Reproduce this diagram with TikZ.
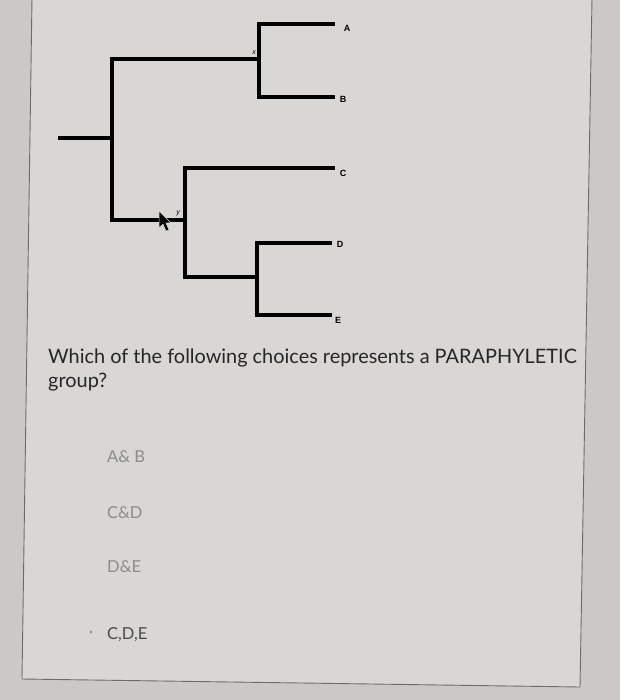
\documentclass[tikz,border=0pt]{standalone}
\usepackage{fontspec}
\setmainfont{Lato}
\newfontfamily\labfont{Liberation Sans}
\definecolor{outerbg}{HTML}{CBC9C7}
\definecolor{panelbg}{HTML}{D9D7D5}
\definecolor{framec}{HTML}{6E6A6C}
\definecolor{optgray}{HTML}{8C8C8C}
\definecolor{optdark}{HTML}{4A4A4A}
\definecolor{qtext}{HTML}{262626}
\begin{document}
\begin{tikzpicture}[x=1pt,y=-1pt,
  branch/.style={line width=3.4pt,black,line join=miter,line cap=rect},
  leaflab/.style={font=\labfont\bfseries\fontsize{9}{9}\selectfont,anchor=center,inner sep=0pt},
  nodelab/.style={font=\labfont\itshape\fontsize{7}{7}\selectfont,anchor=center,inner sep=0pt},
  question/.style={font=\fontsize{19.9}{23}\selectfont,text=qtext,anchor=base west,inner sep=0pt},
  option/.style={font=\fontsize{16.5}{19}\selectfont,text=optgray,anchor=base west,inner sep=0pt}]
\useasboundingbox (0,0) rectangle (620,700);
\fill[outerbg] (0,0) rectangle (620,700);
\fill[panelbg,draw=framec,line width=0.9pt] (32,-2) -- (22,679) -- (580,687) -- (592,-2);
% tree points
\coordinate (root) at (60,138);
\coordinate (n1) at (112,138);
\coordinate (nx) at (259,59);
\coordinate (ny) at (185,220);
\coordinate (nde) at (257,277);
\coordinate (lA) at (333,24);
\coordinate (lB) at (333,97);
\coordinate (lC) at (333,168);
\coordinate (lD) at (330,243);
\coordinate (lE) at (330,315);
\draw[branch] (root) -- (n1);
\draw[branch] (n1) |- (nx);
\draw[branch] (n1) |- (ny);
\draw[branch] (nx) |- (lA);
\draw[branch] (nx) |- (lB);
\draw[branch] (ny) |- (lC);
\draw[branch] (ny) |- (nde);
\draw[branch] (nde) |- (lD);
\draw[branch] (nde) |- (lE);
% leaf labels
\node[leaflab] (tA) at (347,28) {A};
\node[leaflab] (tB) at (343,99) {B};
\node[leaflab] (tC) at (343,173) {C};
\node[leaflab] (tD) at (340,244) {D};
\node[leaflab] (tE) at (338,320) {E};
\node[nodelab] (tx) at (254,53) {x};
\node[nodelab] (ty) at (178,213) {y};
% mouse pointer
\filldraw[fill=black,draw=white!85!black,line width=0.5pt]
  (159,211) -- (159,228) -- (163,224) -- (166,231) -- (169,230) -- (166,223) -- (171,223) -- cycle;
% question
\node[question] (q1) at (48,363) {Which of the following choices represents a PARAPHYLETIC};
\node[question] (q2) at (48,387) {group?};
% options
\node[option] (o1) at (107,462) {A\& B};
\node[option] (o2) at (107,518) {C\&D};
\node[option] (o3) at (107,572) {D\&E};
\fill[optgray] (91,632) circle (1.3);
\node[option,text=optdark] (o4) at (107,639) {C,D,E};
\end{tikzpicture}
\end{document}
